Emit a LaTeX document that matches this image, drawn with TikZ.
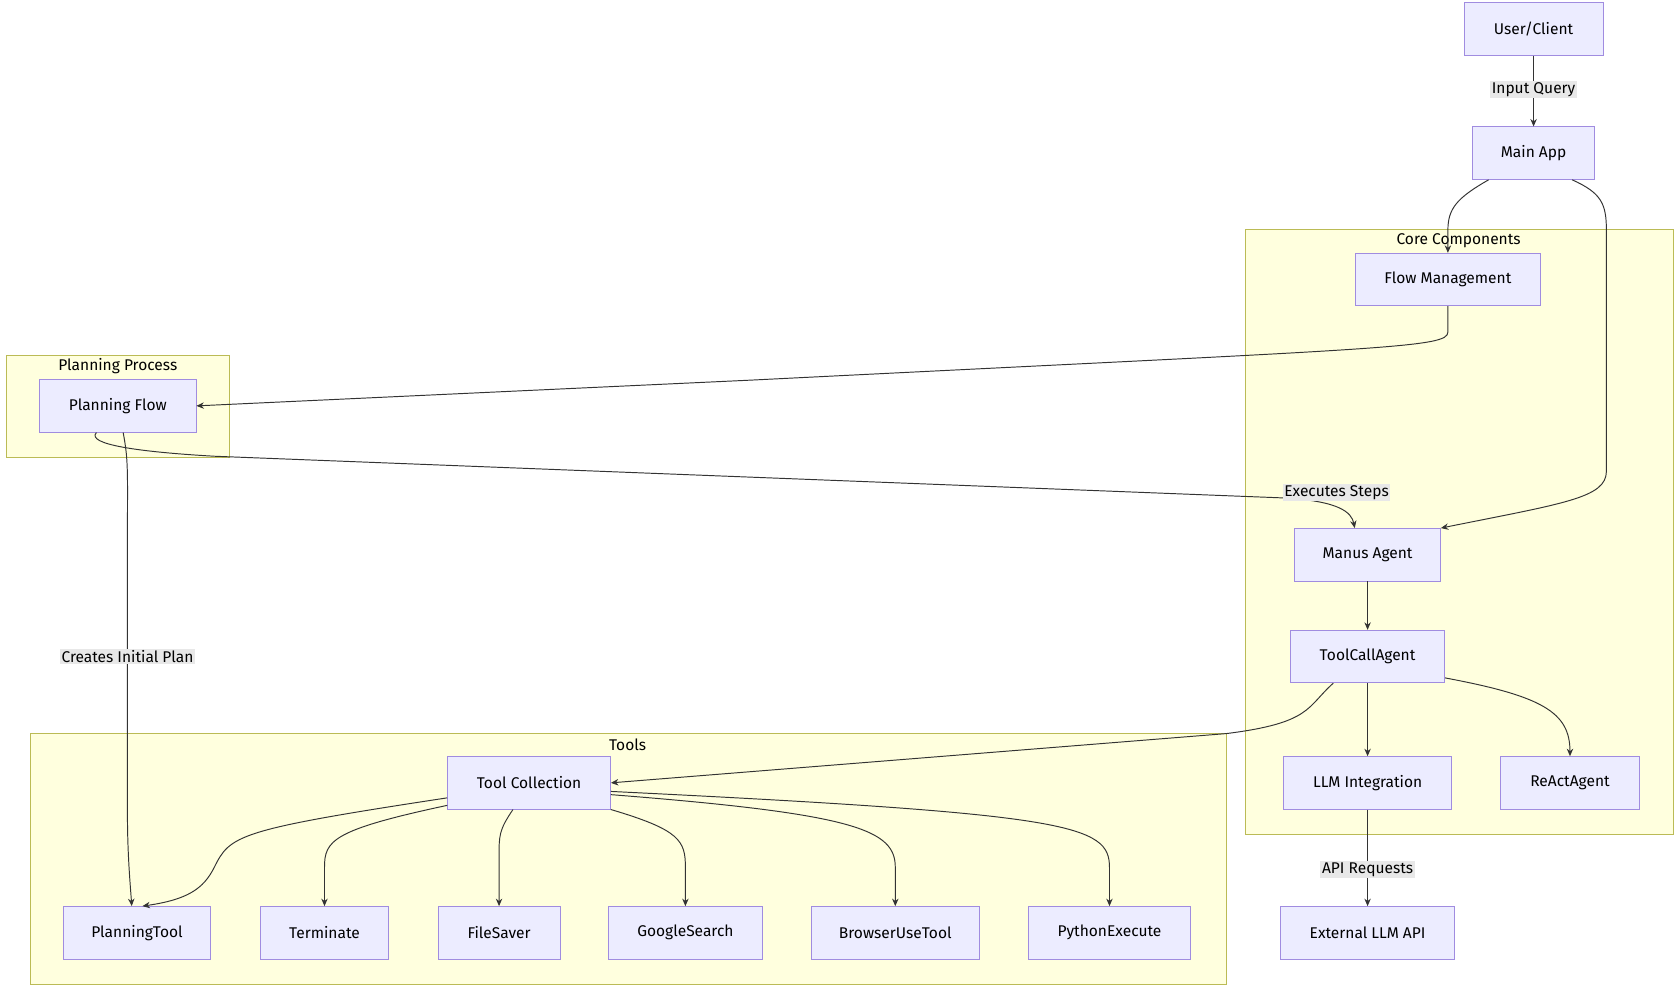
\documentclass[tikz,border=0pt]{standalone}
\usepackage{fontspec}
\setmainfont{Fira Sans}
\usetikzlibrary{arrows.meta}
\definecolor{nf}{HTML}{ECECFF}\definecolor{nd}{HTML}{A08CE0}
\definecolor{cf}{HTML}{FFFFDE}\definecolor{cd}{HTML}{BBBB55}
\definecolor{lb}{HTML}{E8E8E8}\definecolor{ln}{HTML}{333333}
\begin{document}
\begin{tikzpicture}[x=1pt,y=-1pt,
 nd/.style={draw=nd,fill=nf,line width=0.8pt,minimum height=49pt,inner sep=0pt,font=\fontsize{14.5}{16}\selectfont},
 cl/.style={draw=cd,fill=cf,line width=0.8pt},
 tt/.style={font=\fontsize{14.5}{16}\selectfont},
 lab/.style={fill=lb,inner sep=1.5pt,font=\fontsize{14.5}{16}\selectfont},
 e/.style={draw=ln,line width=0.9pt,-{Stealth[length=7pt,width=6pt]}}]
\useasboundingbox (0,0) rectangle (1565,922);
\fill[white] (0,0) rectangle (1565,922);
% clusters
\draw[cl] (1163,214) rectangle (1563,779);
\node[tt] (tcore) at (1362,225) {Core Components};
\draw[cl] (6,332) rectangle (214,427);
\node[tt] (tplan) at (110,342) {Planning Process};
\draw[cl] (28,685) rectangle (1145,919);
\node[tt] (ttools) at (586,695) {Tools};
% nodes
\node[nd,minimum width=130pt] (user) at (1432,27) {User/Client};
\node[nd,minimum width=114pt] (main) at (1432,143) {Main App};
\node[nd,minimum width=172pt] (flow) at (1352,261) {Flow Management};
\node[nd,minimum width=136pt] (manus) at (1277,518) {Manus Agent};
\node[nd,minimum width=144pt] (tca) at (1277,613) {ToolCallAgent};
\node[nd,minimum width=157pt] (llm) at (1277,731) {LLM Integration};
\node[nd,minimum width=130pt] (react) at (1466,731) {ReActAgent};
\node[nd,minimum width=163pt] (ext) at (1277,871) {External LLM API};
\node[nd,minimum width=146pt] (pflow) at (110,379) {Planning Flow};
\node[nd,minimum width=152pt] (tc) at (494,731) {Tool Collection};
\node[nd,minimum width=137pt] (pt) at (128,871) {PlanningTool};
\node[nd,minimum width=120pt] (term) at (303,871) {Terminate};
\node[nd,minimum width=114pt] (fs) at (466,871) {FileSaver};
\node[nd,minimum width=143pt] (gs) at (640,871) {GoogleSearch};
\node[nd,minimum width=157pt] (bu) at (836,871) {BrowserUseTool};
\node[nd,minimum width=151pt] (pe) at (1036,871) {PythonExecute};
% edges
\draw[e] (user) -- node[lab,pos=0.48] {Input Query} (main);
\draw[e] ([xshift=-42pt]main.south) .. controls (1360,185) and (1352,195) .. (1352,215) -- (flow.north);
\draw[e] ([xshift=36pt]main.south) .. controls (1495,180) and (1500,190) .. (1500,215) -- (1500,440) .. controls (1500,465) and (1460,470) .. (manus.north east);
\draw[e] (flow.south) -- (1352,310) .. controls (1352,325) and (1300,325) .. (700,355) -- (pflow.east);
\draw[e] ([xshift=-20pt]pflow.south) .. controls (80,415) and (130,422) .. (200,426) -- (1200,465) .. controls (1250,468) and (1262,478) .. ([xshift=-12pt]manus.north);
\node[lab] (lex) at (1248,460) {Executes Steps};
\draw[e] ([xshift=5pt]pflow.south) .. controls (120,430) and (119,440) .. (119,500) -- (119,760) .. controls (119,800) and (122,830) .. ([xshift=-5pt]pt.north);
\node[lab] (lcp) at (119,613) {Creates Initial Plan};
\draw[e] (manus) -- (tca);
\draw[e] (tca) -- (llm);
\draw[e] ([yshift=-20pt]tca.east) .. controls (1440,650) and (1466,665) .. (react.north);
\draw[e] ([xshift=-32pt]tca.south) .. controls (1220,660) and (1225,675) .. (1145,685) -- (tc.east);
\draw[e] (llm) -- node[lab,pos=0.62] {API Requests} (ext);
\draw[e] ([yshift=-14pt]tc.west) .. controls (220,775) and (215,780) .. (200,810) .. controls (190,830) and (175,840) .. ([xshift=5pt]pt.north);
\draw[e] ([yshift=-21pt]tc.west) .. controls (310,775) and (303,785) .. (303,810) -- (term.north);
\draw[e] ([xshift=-15pt]tc.south) .. controls (466,775) and (466,780) .. (466,800) -- (fs.north);
\draw[e] (tc.south east) .. controls (635,775) and (640,785) .. (640,810) -- (gs.north);
\draw[e] ([yshift=-11pt]tc.east) .. controls (800,760) and (836,775) .. (836,810) -- (bu.north);
\draw[e] ([yshift=-8pt]tc.east) .. controls (1000,760) and (1036,770) .. (1036,810) -- (pe.north);
\end{tikzpicture}
\end{document}
